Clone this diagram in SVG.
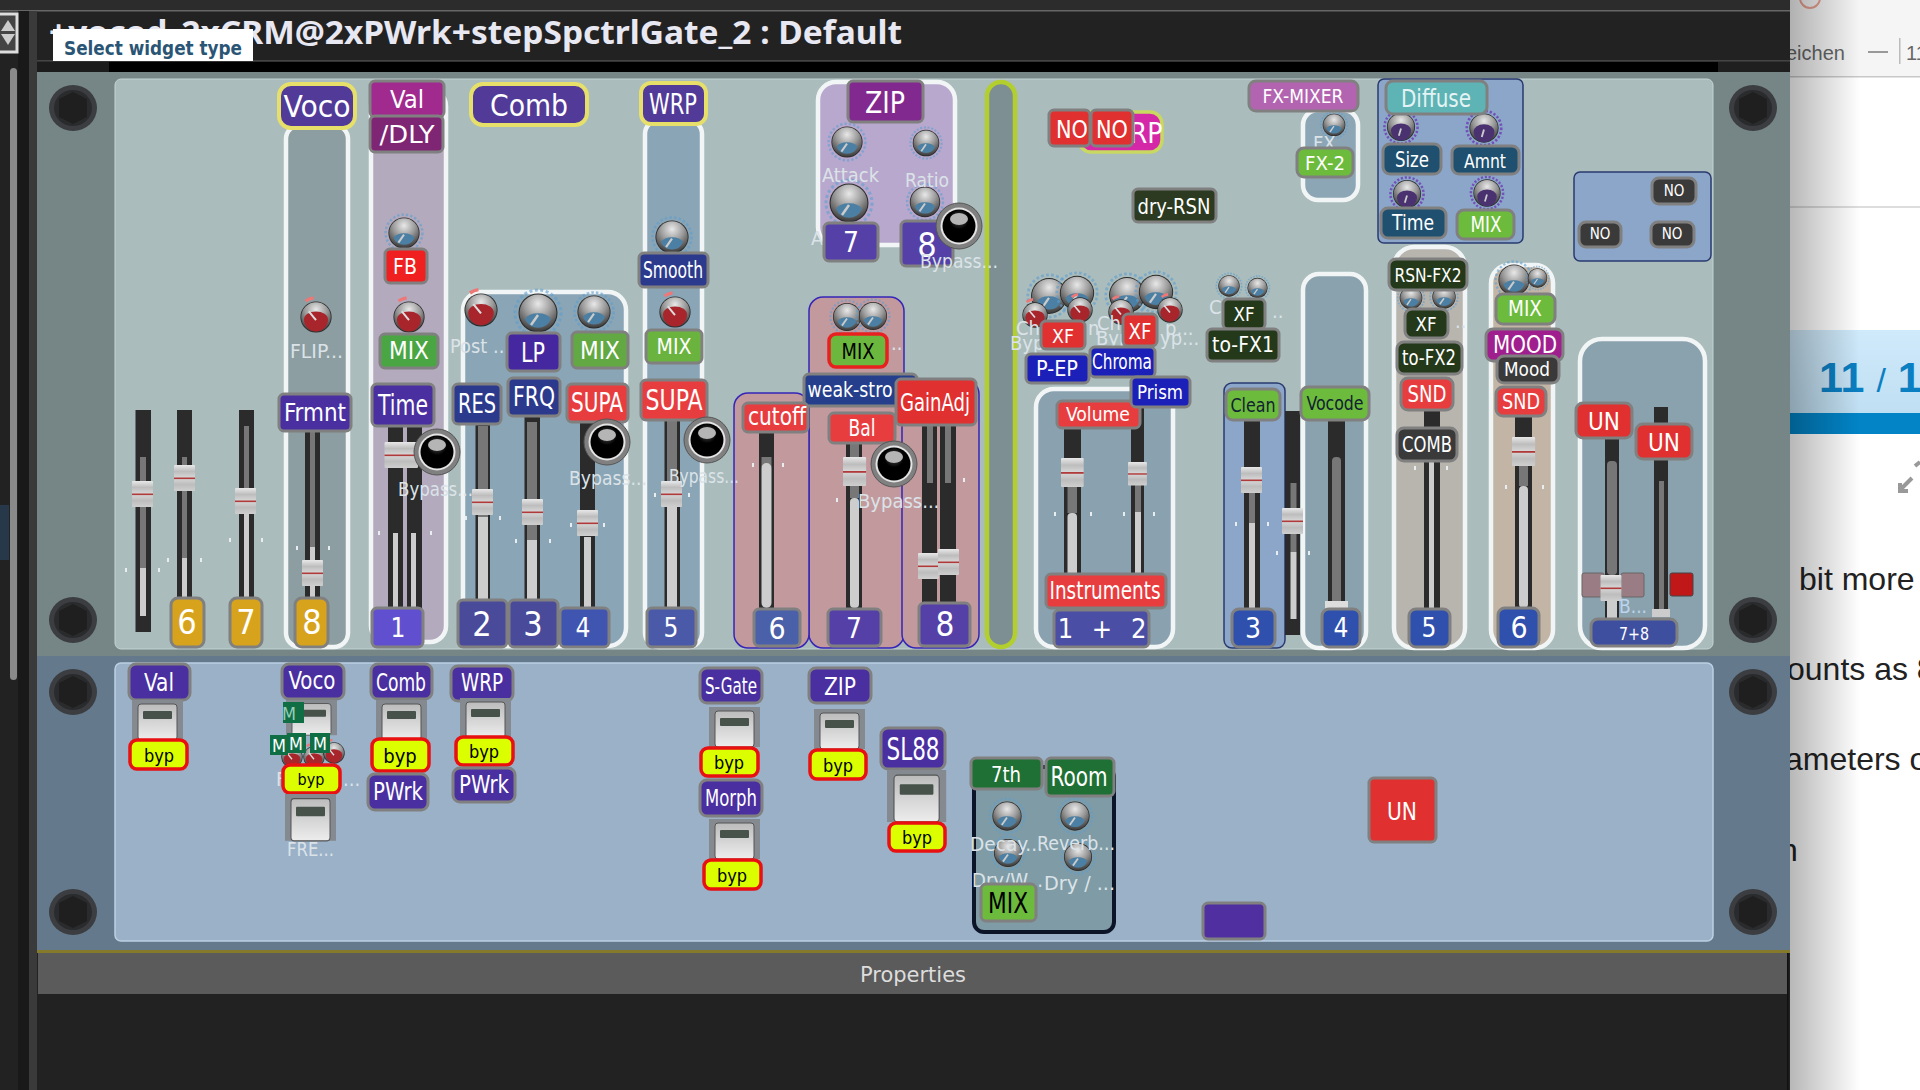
<svg xmlns="http://www.w3.org/2000/svg" width="1920" height="1090" viewBox="0 0 1920 1090">
<style>
.l{stroke:#808080;stroke-width:3}
.t{fill:#fff;font-family:"DejaVu Sans Condensed","DejaVu Sans",sans-serif;text-anchor:middle;dominant-baseline:central}
.d{fill:#dbe3e8;font-family:"DejaVu Sans Condensed","DejaVu Sans",sans-serif;font-size:20px}
.col{stroke:#f2f5f5;stroke-width:4.5}
.bx{stroke:#3525b8;stroke-width:1.5;fill:#c29a9e}
.nv{stroke:#2a3a70;stroke-width:1.5;fill:#8ba6c8}
.tr{fill:#2b2b2b}.g{fill:#777}.w{fill:#cdcdcd}
.by{fill:#dcff00;stroke:#e81010;stroke-width:3.5}
.pg{fill:#222;font-family:"Liberation Sans",Arial,sans-serif;font-size:32px}
.tk{fill:#e8eef0}
</style>
<defs>
<linearGradient id="capg" x1="0" y1="0" x2="0" y2="1"><stop offset="0" stop-color="#e8e8e8"/><stop offset=".25" stop-color="#bdbdbd"/><stop offset=".5" stop-color="#d8d8d8"/><stop offset=".75" stop-color="#bdbdbd"/><stop offset="1" stop-color="#cfcfcf"/></linearGradient>
<linearGradient id="swg" x1="0" y1="0" x2="0" y2="1"><stop offset="0" stop-color="#bcbcbc"/><stop offset="1" stop-color="#ededed"/></linearGradient>
<linearGradient id="shd" x1="0" y1="0" x2="1" y2="0"><stop offset="0" stop-color="#000" stop-opacity=".28"/><stop offset="1" stop-color="#000" stop-opacity="0"/></linearGradient>
<linearGradient id="ban" x1="0" y1="0" x2="0" y2="1"><stop offset="0" stop-color="#cfeafb"/><stop offset="1" stop-color="#c0dff2"/></linearGradient>
<radialGradient id="sil" cx=".5" cy=".25" r=".75"><stop offset="0" stop-color="#e8e8e8"/><stop offset=".5" stop-color="#9a9a9a"/><stop offset="1" stop-color="#3a3a3a"/></radialGradient>
<radialGradient id="blk" cx=".5" cy=".3" r=".6"><stop offset="0" stop-color="#555"/><stop offset=".5" stop-color="#000"/></radialGradient>
<g id="kb"><circle r="23" fill="none" stroke="#5d9fd0" stroke-width="3" stroke-dasharray="3 2.500" opacity=".6"/><circle r="19.5" fill="#2a2a2a"/><circle r="18.5" fill="url(#sil)"/><path d="M-13 6A14 14 0 0 0 13 6A14 9 0 0 0 -13 6Z" fill="#4b7fa3"/><line x1="0" y1="2" x2="-7" y2="12" stroke="#ccc" stroke-width="2.500"/></g>
<g id="kr"><circle r="19.500" fill="#2a2a2a"/><circle r="18.500" fill="url(#sil)"/><path d="M-15 3A15 15 0 0 0 15 3A15 10 0 0 0 -15 3Z" fill="#a8252c"/><line x1="0" y1="4" x2="-9" y2="-7" stroke="#ddd" stroke-width="2.500"/><path d="M-13 -20A24 24 0 0 1 -3 -24" fill="none" stroke="#e77" stroke-width="4"/></g>
<g id="kp"><circle r="23" fill="none" stroke="#6a35b5" stroke-width="3.500" stroke-dasharray="3 2.500" opacity=".75"/><circle r="19.500" fill="#2a2a2a"/><circle r="18.500" fill="url(#sil)"/><path d="M-14 5A14 14 0 0 0 14 5A14 10 0 0 0 -14 5Z" fill="#4a3270"/><line x1="0" y1="2" x2="-3" y2="12" stroke="#ccc" stroke-width="2.500"/></g>
<g id="bb"><circle r="23" fill="#808080" stroke="#555" stroke-width="1"/><circle r="18.500" fill="#e4e4e4"/><circle r="16.500" fill="url(#blk)"/><ellipse cy="-7" rx="9" ry="6" fill="#b5b5b5"/></g>
<g id="sc"><ellipse rx="24" ry="23" fill="#3b3d40"/><ellipse rx="19" ry="18" fill="#2a2b2d"/><polygon points="-14,-9 0,-16 14,-9 14,9 0,16 -14,9" fill="#1f1f20"/></g>
<g id="cap"><rect width="21" height="26" rx="1" fill="url(#capg)"/><rect y="12.500" width="21" height="1.600" fill="#b03a3a"/></g>
<g id="sw"><rect width="51" height="40" fill="#858a90"/><rect x="6" y="4" width="39" height="36" rx="3" fill="url(#swg)" stroke="#555" stroke-width="1"/><rect x="11" y="11" width="29" height="8" rx="1" fill="#46524a"/></g>
</defs>

<g id="page">
<rect x="1790" width="130" height="1090" fill="#fff"/>
<rect x="1790" width="130" height="77" fill="#f5f5f6"/>
<rect x="1790" y="76" width="130" height="1.500" fill="#c8c8c8"/>
<circle cx="1810" cy="-2" r="10" fill="none" stroke="#e8a090" stroke-width="2"/>
<text x="1786" y="60" fill="#666" font-family="Liberation Sans,sans-serif" font-size="20">eichen</text>
<rect x="1868" y="51" width="20" height="2" fill="#999"/>
<rect x="1899" y="38" width="1.500" height="26" fill="#bbb"/>
<text x="1906" y="60" fill="#666" font-family="Liberation Sans,sans-serif" font-size="20">11</text>
<rect x="1790" y="206" width="130" height="2" fill="#ddd"/>
<rect x="1790" y="330" width="130" height="83" fill="url(#ban)"/>
<rect x="1790" y="413" width="130" height="21" fill="#0284c7"/>
<text x="1819" y="392" fill="#0a7fc2" font-family="Liberation Sans,sans-serif" font-weight="700" font-size="43">11 <tspan font-weight="400" font-size="34">/</tspan> 12</text>
<path d="M1900 490L1912 478M1900 483V491H1908M1915 466L1920 462" stroke="#999" stroke-width="4" fill="none"/>
<text x="1799" y="590" class="pg">bit more</text>
<text x="1787" y="680" class="pg">ounts as 8</text>
<text x="1785" y="770" class="pg">ameters o</text>
<text x="1780" y="861" class="pg">n</text>
<rect x="1790" width="70" height="1090" fill="url(#shd)"/>
</g>

<g id="chrome">
<rect width="1790" height="1090" fill="#222"/>
<rect width="1790" height="10" fill="#2c2c2c"/>
<rect x="0" y="10" width="1790" height="1.500" fill="#666"/>
<rect x="37" y="60" width="1753" height="1.500" fill="#444"/>
<rect x="37" y="62" width="1753" height="10" fill="#000"/>
<rect x="37" y="62" width="72" height="10" fill="#1c1c1c"/>
<rect x="1718" y="62" width="72" height="10" fill="#1f1f1f"/>
<rect x="29" y="11" width="8" height="1079" fill="#3a3a3a"/>
<rect x="18" y="11" width="11" height="1079" fill="#191919"/>
<rect x="0" y="505" width="9" height="55" fill="#26384a"/>
<rect x="10" y="68" width="7" height="612" rx="3.500" fill="#8a8a8a"/>
<rect x="-2" y="14" width="19" height="38" fill="#444" stroke="#ddd" stroke-width="3"/>
<polygon points="8,20 15,31 1,31" fill="#ccc"/><polygon points="1,34 15,34 8,45" fill="#ccc"/>
<text x="49" y="44" fill="#e8e8f2" font-family="Noto Sans,sans-serif" font-weight="700" font-size="33" textLength="853" lengthAdjust="spacingAndGlyphs">+vocod_2xCRM@2xPWrk+stepSpctrlGate_2 : Default</text>
<rect x="53" y="29" width="200" height="32" fill="#fff"/>
<text x="64" y="55" fill="#2a5575" font-family="DejaVu Sans,sans-serif" font-weight="700" font-size="19" textLength="178" lengthAdjust="spacingAndGlyphs">Select widget type</text>
</g>

<g id="panels">
<rect x="37" y="72" width="1753" height="584" fill="#768687"/>
<rect x="37" y="656" width="1753" height="294" fill="#64798c"/>
<rect x="37" y="950" width="1753" height="3" fill="#857a2c"/>
<rect x="38" y="953" width="1749" height="41" fill="#5b5b5b"/>
<rect x="1787" y="953" width="1.500" height="137" fill="#111"/>
<rect x="115" y="79" width="1598" height="570" rx="6" fill="#aabcbc" stroke="#c4d4d4" stroke-width="1"/>
<rect x="115" y="663" width="1598" height="278" rx="6" fill="#9ab1c8" stroke="#bcd0e2" stroke-width="1.500"/>
<text x="913" y="982" text-anchor="middle" fill="#ddd" font-family="DejaVu Sans,sans-serif" font-size="21" textLength="106" lengthAdjust="spacingAndGlyphs">Properties</text>
</g>

<g id="screws">
<use href="#sc" transform="translate(73 108)"/><use href="#sc" transform="translate(73 620)"/><use href="#sc" transform="translate(73 692)"/><use href="#sc" transform="translate(73 912)"/>
<use href="#sc" transform="translate(1753 108)"/><use href="#sc" transform="translate(1753 620)"/><use href="#sc" transform="translate(1753 692)"/><use href="#sc" transform="translate(1753 912)"/>
</g>

<g id="columns">
<rect class="col" x="286" y="125" width="62" height="522" rx="14" fill="#8c9ea1"/>
<rect class="col" x="371" y="90" width="75" height="552" rx="16" fill="#b3aabd"/>
<rect class="col" x="463" y="292" width="163" height="354" rx="18" fill="#8aa5b5"/>
<rect class="col" x="645" y="120" width="57" height="527" rx="14" fill="#8aa5b5"/>
<rect class="col" x="818" y="82" width="137" height="163" rx="18" fill="#b9a8cd"/>
<rect x="987" y="82" width="28" height="565" rx="14" fill="#7d8f92" stroke="#b2cf2e" stroke-width="4.500"/>
<rect class="bx" x="809" y="297" width="95" height="351" rx="14"/>
<rect class="bx" x="734" y="393" width="75" height="255" rx="14"/>
<rect class="bx" x="902" y="380" width="77" height="268" rx="14"/>
<rect class="col" x="1036" y="389" width="137" height="258" rx="18" fill="#8aa2b0"/>
<rect class="col" x="1303" y="110" width="55" height="90" rx="15" fill="#8da6b5"/>
<rect class="nv" x="1378" y="79" width="145" height="164" rx="6"/>
<rect class="nv" x="1574" y="172" width="137" height="89" rx="6"/>
<rect class="col" x="1394" y="247" width="71" height="401" rx="20" fill="#b8b5af"/>
<rect class="col" x="1491" y="265" width="62" height="383" rx="18" fill="#c2b5a5"/>
<rect class="nv" x="1224" y="383" width="61" height="265" rx="8"/>
<rect class="col" x="1303" y="274" width="63" height="374" rx="16" fill="#8aa2ae"/>
<rect class="col" x="1580" y="339" width="125" height="309" rx="22" fill="#8aa2ae"/>
<rect x="974" y="767" width="140" height="165" rx="10" fill="#7f9ba6" stroke="#0c1428" stroke-width="4"/>
</g>

<g id="ticks">
<rect class="tk" x="125" y="568" width="2" height="4"/><rect class="tk" x="158" y="568" width="2" height="4"/>
<rect class="tk" x="167" y="558" width="2" height="4"/><rect class="tk" x="200" y="558" width="2" height="4"/>
<rect class="tk" x="229" y="538" width="2" height="4"/><rect class="tk" x="261" y="538" width="2" height="4"/>
<rect class="tk" x="296" y="546" width="2" height="4"/><rect class="tk" x="328" y="546" width="2" height="4"/>
<rect class="tk" x="378" y="531" width="2" height="4"/><rect class="tk" x="430" y="531" width="2" height="4"/>
<rect class="tk" x="465" y="516" width="2" height="4"/><rect class="tk" x="499" y="516" width="2" height="4"/>
<rect class="tk" x="515" y="539" width="2" height="4"/><rect class="tk" x="549" y="539" width="2" height="4"/>
<rect class="tk" x="570" y="523" width="2" height="4"/><rect class="tk" x="603" y="523" width="2" height="4"/>
<rect class="tk" x="654" y="493" width="2" height="4"/><rect class="tk" x="688" y="493" width="2" height="4"/>
<rect class="tk" x="752" y="463" width="2" height="4"/><rect class="tk" x="782" y="463" width="2" height="4"/>
<rect class="tk" x="836" y="498" width="2" height="4"/><rect class="tk" x="963" y="478" width="2" height="4"/>
<rect class="tk" x="1054" y="512" width="2" height="4"/><rect class="tk" x="1090" y="512" width="2" height="4"/><rect class="tk" x="1123" y="512" width="2" height="4"/><rect class="tk" x="1153" y="512" width="2" height="4"/>
<rect class="tk" x="1235" y="522" width="2" height="4"/><rect class="tk" x="1267" y="522" width="2" height="4"/>
<rect class="tk" x="1276" y="551" width="2" height="4"/><rect class="tk" x="1308" y="551" width="2" height="4"/>
<rect class="tk" x="1414" y="466" width="2" height="4"/><rect class="tk" x="1446" y="466" width="2" height="4"/>
<rect class="tk" x="1505" y="485" width="2" height="4"/><rect class="tk" x="1542" y="485" width="2" height="4"/>
</g>

<g id="faders">
<rect class="tr" x="135.500" y="410" width="15.500" height="222"/><rect class="g" x="140" y="457" width="6" height="111"/><rect class="w" x="140" y="568" width="6" height="48"/><use href="#cap" transform="translate(132 481)"/>
<rect class="tr" x="177" y="410" width="15" height="190"/><rect class="g" x="182" y="457" width="5" height="101"/><rect class="w" x="182" y="558" width="5" height="42"/><use href="#cap" transform="translate(174 465)"/>
<rect class="tr" x="239" y="410" width="15" height="190"/><rect class="g" x="244" y="426" width="5" height="88"/><rect class="w" x="244" y="514" width="5" height="86"/><use href="#cap" transform="translate(235 488)"/>
<rect class="tr" x="305" y="432" width="15" height="168"/><rect class="g" x="310" y="432" width="5" height="115"/><rect class="w" x="310" y="547" width="5" height="50"/><use href="#cap" transform="translate(302 560)"/>
<rect class="tr" x="388" y="427" width="15" height="183"/><rect class="tr" x="407" y="427" width="15" height="183"/><rect class="w" x="393" y="533" width="5" height="77"/><rect class="w" x="411" y="533" width="5" height="77"/><use href="#cap" transform="translate(384.500 442) scale(1.600 1)"/>
<rect class="tr" x="475.500" y="425" width="14.500" height="176"/><rect class="g" x="478" y="426" width="10" height="91"/><rect class="w" x="478" y="517" width="10" height="84"/><use href="#cap" transform="translate(472 489)"/>
<rect class="tr" x="524.500" y="417" width="15.500" height="184"/><rect class="g" x="527" y="422" width="10" height="118"/><rect class="w" x="527" y="540" width="10" height="61"/><use href="#cap" transform="translate(522 499)"/>
<rect class="tr" x="580" y="423" width="15" height="187"/><rect class="w" x="584" y="537" width="7" height="73"/><use href="#cap" transform="translate(577 510)"/>
<rect class="tr" x="664.500" y="421" width="15.500" height="187"/><rect class="g" x="667" y="421" width="10" height="86"/><rect class="w" x="667" y="507" width="10" height="101"/><use href="#cap" transform="translate(661 481)"/>
<rect class="tr" x="759" y="433" width="15" height="175"/><rect class="g" x="761.500" y="457" width="10" height="10"/><rect class="w" x="761.500" y="463" width="10" height="145" rx="5"/>
<rect class="tr" x="846" y="444" width="16" height="164"/><rect class="g" x="850" y="444" width="9" height="54"/><rect class="w" x="850" y="498" width="9" height="110" rx="4"/><use href="#cap" transform="translate(843 457) scale(1.100 1.120)"/>
<rect class="tr" x="922" y="426" width="15" height="177"/><rect class="tr" x="940" y="426" width="16" height="177"/><rect class="g" x="927" y="426" width="6" height="57"/><rect class="g" x="945" y="426" width="6" height="57"/><use href="#cap" transform="translate(918 553)"/><use href="#cap" transform="translate(938 549)"/>
<rect class="tr" x="1064" y="429" width="17" height="161"/><rect class="g" x="1067.500" y="487" width="9.500" height="26"/><rect class="w" x="1067.500" y="513" width="9.500" height="77" rx="4"/><use href="#cap" transform="translate(1061 458) scale(1.080 1.120)"/>
<rect class="tr" x="1131" y="408" width="13" height="182"/><rect class="g" x="1135" y="485" width="6" height="27"/><rect class="w" x="1135" y="512" width="6" height="78"/><use href="#cap" transform="translate(1128 462) scale(.9 .9)"/>
<rect class="tr" x="1244" y="421" width="16" height="187"/><rect class="g" x="1249" y="493" width="6" height="30"/><rect class="w" x="1249" y="523" width="6" height="85"/><use href="#cap" transform="translate(1241 467)"/>
<rect class="tr" x="1285" y="411" width="15" height="224"/><rect class="g" x="1290.500" y="483" width="6" height="69"/><rect class="w" x="1290.500" y="552" width="6" height="67"/><use href="#cap" transform="translate(1282 508)"/>
<rect class="tr" x="1328" y="421" width="17" height="187"/><rect class="g" x="1332" y="457" width="9" height="150" rx="4"/><rect x="1325" y="601" width="23" height="8" fill="#ddd"/>
<rect class="tr" x="1424" y="411" width="16" height="198"/><rect class="w" x="1429" y="462" width="5" height="147"/>
<rect class="tr" x="1515" y="417" width="17" height="192"/><rect class="g" x="1519" y="466" width="9" height="20"/><rect class="w" x="1519" y="486" width="9" height="122" rx="4"/><use href="#cap" transform="translate(1512 437) scale(1.100 1.120)"/>
<rect class="tr" x="1605" y="439" width="14" height="180"/><rect class="g" x="1607" y="461" width="10" height="114" rx="4"/><rect class="w" x="1607" y="601" width="10" height="18"/><rect x="1582" y="573" width="22" height="24" rx="2" fill="#9a7d84" stroke="#666"/><rect x="1621" y="573" width="23" height="24" rx="2" fill="#9a7d84" stroke="#666"/><use href="#cap" transform="translate(1600.500 575)"/>
<rect class="tr" x="1654" y="407" width="14" height="210"/><rect class="g" x="1659" y="481" width="5" height="129"/><rect x="1652" y="609" width="18" height="8" fill="#ccc"/>
<rect x="1670" y="573" width="23" height="23" rx="2" fill="#c01818" stroke="#444"/>
</g>

<g id="knobs">
<use href="#kr" transform="translate(316 317) scale(.8)"/>
<use href="#kb" transform="translate(404 233) scale(.8)"/>
<use href="#kr" transform="translate(409 317) scale(.8)"/>
<use href="#kr" transform="translate(481 310) scale(.85)"/>
<use href="#kb" transform="translate(538 313) scale(1)"/>
<use href="#kb" transform="translate(594 312) scale(.85)"/>
<use href="#kb" transform="translate(672 237) scale(.85)"/>
<use href="#kr" transform="translate(675 312) scale(.8)"/>
<use href="#kb" transform="translate(847 142) scale(.8)"/>
<use href="#kb" transform="translate(926 143) scale(.68)"/>
<use href="#kb" transform="translate(849 203) scale(1)"/>
<use href="#kb" transform="translate(925 202) scale(.78)"/>
<use href="#kb" transform="translate(847 317) scale(.72)"/>
<use href="#kb" transform="translate(873 316) scale(.72)"/>
<use href="#kb" transform="translate(1049 296) scale(.92)"/>
<use href="#kb" transform="translate(1077 293) scale(.88)"/>
<use href="#kb" transform="translate(1127 295) scale(.92)"/>
<use href="#kb" transform="translate(1156 292) scale(.88)"/>
<use href="#kr" transform="translate(1035 315) scale(.65)"/>
<use href="#kr" transform="translate(1080 310) scale(.65)"/>
<use href="#kr" transform="translate(1121 312) scale(.65)"/>
<use href="#kr" transform="translate(1170 310) scale(.65)"/>
<use href="#kb" transform="translate(1229 286) scale(.55)"/>
<use href="#kb" transform="translate(1257.500 288) scale(.52)"/>
<use href="#kb" transform="translate(1334 125) scale(.58)"/>
<use href="#kp" transform="translate(1401 127) scale(.72)"/>
<use href="#kp" transform="translate(1484 128) scale(.75)"/>
<use href="#kp" transform="translate(1407 194) scale(.72)"/>
<use href="#kp" transform="translate(1487 193) scale(.7)"/>
<use href="#kb" transform="translate(1411 298) scale(.58)"/>
<use href="#kb" transform="translate(1444 297) scale(.6)"/>
<use href="#kb" transform="translate(1514 280) scale(.8)"/>
<use href="#kb" transform="translate(1537.500 278) scale(.5)"/>
<use href="#kb" transform="translate(1007 816) scale(.75)"/>
<use href="#kb" transform="translate(1075 816) scale(.75)"/>
<use href="#kb" transform="translate(1008 853) scale(.72)"/>
<use href="#kb" transform="translate(1078 857) scale(.72)"/>
</g>

<g id="captions">
<text class="d" x="290" y="358" textLength="53" lengthAdjust="spacingAndGlyphs">FLIP...</text>
<text class="d" x="450" y="353" textLength="60" lengthAdjust="spacingAndGlyphs">Post ...</text>
<text class="d" x="822" y="182" textLength="57" lengthAdjust="spacingAndGlyphs">Attack</text>
<text class="d" x="905" y="187" textLength="44" lengthAdjust="spacingAndGlyphs">Ratio</text>
<text class="d" x="811" y="245">A</text>
<text class="d" x="1016" y="335">Ch</text><text class="d" x="1010" y="350">Byp</text>
<text class="d" x="1088" y="335">n</text><text class="d" x="1097" y="330">Ch</text><text class="d" x="1096" y="345">Byp</text>
<text class="d" x="1165" y="335">p...</text><text class="d" x="1160" y="345">yp...</text>
<text class="d" x="1209" y="314">C</text><text class="d" x="1272" y="318">..</text>
<text class="d" x="1455" y="328">..</text>
<text class="d" x="1313" y="150">FX</text>
<text class="d" x="891" y="350">..</text>
<text class="d" x="858" y="508">Bypass...</text>
<text class="d" x="276" y="786">F</text><text class="d" x="343" y="786">...</text>
<text class="d" x="287" y="856" textLength="47" lengthAdjust="spacingAndGlyphs">FRE...</text>
<text class="d" x="970" y="851" textLength="73" lengthAdjust="spacingAndGlyphs">Decay...</text>
<text class="d" x="1037" y="850" textLength="78" lengthAdjust="spacingAndGlyphs">Reverb...</text>
<text class="d" x="972" y="887" textLength="71" lengthAdjust="spacingAndGlyphs">Dry/W...</text>
<text class="d" x="1044" y="890" textLength="71" lengthAdjust="spacingAndGlyphs">Dry / ...</text>
<text class="d" x="1619" y="613" style="fill:#bcd4ec" textLength="28" lengthAdjust="spacingAndGlyphs">B...</text>
</g>

<g id="n-voco"><rect x="279" y="84" width="76" height="44" rx="12" fill="#523a98" stroke="#e6e06a" stroke-width="4"/><text class="t" x="317" y="106" font-size="31" textLength="67" lengthAdjust="spacingAndGlyphs">Voco</text></g>
<g id="n-comb"><rect x="471" y="84" width="116" height="41" rx="12" fill="#523a98" stroke="#e6e06a" stroke-width="4"/><text class="t" x="529" y="105" font-size="30" textLength="78" lengthAdjust="spacingAndGlyphs">Comb</text></g>
<g id="n-wrp"><rect x="641" y="83" width="65" height="41" rx="10" fill="#523a98" stroke="#e6e06a" stroke-width="4"/><text class="t" x="673" y="104" font-size="28" textLength="48" lengthAdjust="spacingAndGlyphs">WRP</text></g>
<g id="n-val"><rect class="l" x="370" y="81" width="74" height="36" rx="5" fill="#a02a8e"/><text class="t" x="407" y="99" font-size="25" textLength="34" lengthAdjust="spacingAndGlyphs">Val</text></g>
<g id="n-dly"><rect class="l" x="370" y="116" width="73" height="36" rx="5" fill="#7e2573"/><text class="t" x="407" y="134" font-size="25" textLength="55" lengthAdjust="spacingAndGlyphs">/DLY</text></g>
<g id="n-fb"><rect class="l" x="385" y="249" width="42" height="34" rx="5" fill="#f02020"/><text class="t" x="405" y="266" font-size="22" textLength="24" lengthAdjust="spacingAndGlyphs">FB</text></g>
<g id="n-mix1"><rect class="l" x="380" y="334" width="58" height="34" rx="5" fill="#4aa642"/><text class="t" x="409" y="351" font-size="24" textLength="40" lengthAdjust="spacingAndGlyphs">MIX</text></g>
<g id="n-lp"><rect class="l" x="507" y="333" width="53" height="38" rx="5" fill="#4528a0"/><text class="t" x="533" y="353" font-size="26" textLength="24" lengthAdjust="spacingAndGlyphs">LP</text></g>
<g id="n-mix2"><rect class="l" x="572" y="332" width="56" height="36" rx="5" fill="#62a843"/><text class="t" x="600" y="350" font-size="25" textLength="40" lengthAdjust="spacingAndGlyphs">MIX</text></g>
<g id="n-frq"><rect class="l" x="508" y="378" width="52" height="38" rx="5" fill="#2b3a8c"/><text class="t" x="534" y="397" font-size="26" textLength="42" lengthAdjust="spacingAndGlyphs">FRQ</text></g>
<g id="n-res"><rect class="l" x="453" y="384" width="48" height="40" rx="5" fill="#2b3a8c"/><text class="t" x="477" y="404" font-size="26" textLength="38" lengthAdjust="spacingAndGlyphs">RES</text></g>
<g id="n-supa1"><rect class="l" x="567" y="384" width="61" height="38" rx="5" fill="#e83d3f"/><text class="t" x="597" y="403" font-size="26" textLength="52" lengthAdjust="spacingAndGlyphs">SUPA</text></g>
<g id="n-time"><rect class="l" x="372" y="384" width="62" height="42" rx="5" fill="#4a2fa0"/><text class="t" x="403" y="405" font-size="28" textLength="50" lengthAdjust="spacingAndGlyphs">Time</text></g>
<g id="n-frmnt"><rect class="l" x="279" y="394" width="72" height="37" rx="5" fill="#4a2fa0"/><text class="t" x="315" y="412" font-size="25" textLength="62" lengthAdjust="spacingAndGlyphs">Frmnt</text></g>
<g id="n-smooth"><rect class="l" x="639" y="253" width="69" height="34" rx="5" fill="#2b3a8c"/><text class="t" x="673" y="270" font-size="23" textLength="60" lengthAdjust="spacingAndGlyphs">Smooth</text></g>
<g id="n-mix3"><rect class="l" x="646" y="330" width="56" height="33" rx="5" fill="#6ab33e"/><text class="t" x="674" y="346" font-size="22" textLength="35" lengthAdjust="spacingAndGlyphs">MIX</text></g>
<g id="n-supa2"><rect class="l" x="641" y="380" width="66" height="40" rx="5" fill="#e83d3f"/><text class="t" x="674" y="400" font-size="28" textLength="57" lengthAdjust="spacingAndGlyphs">SUPA</text></g>

<g id="n-g6"><rect class="l" x="171" y="598" width="33" height="49" rx="7" fill="#d8a31c"/><text class="t" x="187" y="622" font-size="34">6</text></g>
<g id="n-g7"><rect class="l" x="230" y="598" width="32" height="49" rx="7" fill="#d8a31c"/><text class="t" x="246" y="622" font-size="34">7</text></g>
<g id="n-g8"><rect class="l" x="295" y="598" width="33" height="49" rx="7" fill="#d8a31c"/><text class="t" x="312" y="622" font-size="34">8</text></g>
<g id="n-1"><rect class="l" x="372" y="608" width="51" height="39" rx="5" fill="#6050d0"/><text class="t" x="398" y="628" font-size="26">1</text></g>
<g id="n-2"><rect class="l" x="458" y="600" width="49" height="47" rx="5" fill="#4a4a9a"/><text class="t" x="482" y="624" font-size="34">2</text></g>
<g id="n-3"><rect class="l" x="509" y="600" width="49" height="47" rx="5" fill="#4a4a9a"/><text class="t" x="533" y="624" font-size="34">3</text></g>
<g id="n-4"><rect class="l" x="560" y="608" width="49" height="39" rx="5" fill="#3f55b0"/><text class="t" x="583" y="628" font-size="26">4</text></g>
<g id="n-5"><rect class="l" x="647" y="608" width="49" height="39" rx="5" fill="#4a5aa8"/><text class="t" x="671" y="628" font-size="26">5</text></g>

<g id="n-zip"><rect class="l" x="848" y="81" width="75" height="41" rx="5" fill="#82298f"/><text class="t" x="885" y="102" font-size="30" textLength="40" lengthAdjust="spacingAndGlyphs">ZIP</text></g>
<g id="n-z7"><rect class="l" x="824" y="223" width="54" height="38" rx="5" fill="#5540a8"/><text class="t" x="851" y="242" font-size="28">7</text></g>
<g id="n-z8"><rect class="l" x="901" y="221" width="52" height="45" rx="5" fill="#5540a8"/><text class="t" x="927" y="245" font-size="34">8</text></g>
<g id="n-mix4"><rect x="829" y="334" width="58" height="33" rx="7" fill="#6cb83e" stroke="#e82020" stroke-width="3.500"/><text class="t" x="858" y="351" font-size="22" style="fill:#000" textLength="33" lengthAdjust="spacingAndGlyphs">MIX</text></g>
<g id="n-weak"><rect class="l" x="804" y="374" width="113" height="32" rx="5" fill="#253f8c"/><text class="t" x="850" y="390" font-size="21" textLength="85" lengthAdjust="spacingAndGlyphs">weak-stro</text></g>
<g id="n-gain"><rect class="l" x="896" y="379" width="80" height="46" rx="5" fill="#e03030"/><text class="t" x="935" y="402" font-size="25" textLength="70" lengthAdjust="spacingAndGlyphs">GainAdj</text></g>
<g id="n-cutoff"><rect class="l" x="743" y="403" width="65" height="29" rx="5" fill="#e83d3f"/><text class="t" x="777" y="417" font-size="24" textLength="58" lengthAdjust="spacingAndGlyphs">cutoff</text></g>
<g id="n-bal"><rect class="l" x="829" y="413" width="66" height="30" rx="5" fill="#e83d3f"/><text class="t" x="862" y="428" font-size="23" textLength="27" lengthAdjust="spacingAndGlyphs">Bal</text></g>
<g id="n-c6"><rect class="l" x="754" y="609" width="46" height="37" rx="5" fill="#4a60a8"/><text class="t" x="777" y="628" font-size="30">6</text></g>
<g id="n-c7"><rect class="l" x="828" y="609" width="53" height="37" rx="5" fill="#5540a8"/><text class="t" x="854" y="628" font-size="28">7</text></g>
<g id="n-c8"><rect class="l" x="919" y="603" width="51" height="43" rx="5" fill="#5540a8"/><text class="t" x="945" y="624" font-size="33">8</text></g>

<g id="n-rp"><rect x="1079" y="112" width="83" height="40" rx="12" fill="#d428a8" stroke="#c8d860" stroke-width="3.500"/><text class="t" x="1146" y="133" font-size="28">RP</text></g>
<g id="n-no1"><rect class="l" x="1049" y="110" width="41" height="36" rx="5" fill="#e03030"/><text class="t" x="1072" y="129" font-size="25" textLength="32" lengthAdjust="spacingAndGlyphs">NO</text></g>
<g id="n-no2"><rect class="l" x="1091" y="110" width="42" height="36" rx="5" fill="#e03030"/><text class="t" x="1112" y="129" font-size="25" textLength="32" lengthAdjust="spacingAndGlyphs">NO</text></g>
<g id="n-dry"><rect class="l" x="1133" y="189" width="83" height="33" rx="5" fill="#2b3a20"/><text class="t" x="1174" y="206" font-size="22" textLength="73" lengthAdjust="spacingAndGlyphs">dry-RSN</text></g>
<g id="n-xfr1"><rect class="l" x="1041" y="321" width="44" height="28" rx="5" fill="#e03030"/><text class="t" x="1063" y="336" font-size="20" textLength="22" lengthAdjust="spacingAndGlyphs">XF</text></g>
<g id="n-xfr2"><rect class="l" x="1123" y="314" width="34" height="32" rx="5" fill="#e03030"/><text class="t" x="1140" y="331" font-size="22" textLength="23" lengthAdjust="spacingAndGlyphs">XF</text></g>
<g id="n-pep"><rect class="l" x="1026" y="354" width="63" height="29" rx="5" fill="#1a20b8"/><text class="t" x="1057" y="369" font-size="21" textLength="42" lengthAdjust="spacingAndGlyphs">P-EP</text></g>
<g id="n-chroma"><rect class="l" x="1090" y="347" width="65" height="30" rx="5" fill="#1a20b8"/><text class="t" x="1122" y="362" font-size="21" textLength="60" lengthAdjust="spacingAndGlyphs">Chroma</text></g>
<g id="n-volume"><rect class="l" x="1057" y="401" width="83" height="27" rx="5" fill="#e83d3f"/><text class="t" x="1098" y="414" font-size="20" textLength="64" lengthAdjust="spacingAndGlyphs">Volume</text></g>
<g id="n-prism"><rect class="l" x="1131" y="377" width="59" height="30" rx="5" fill="#1a20b8"/><text class="t" x="1160" y="392" font-size="20" textLength="46" lengthAdjust="spacingAndGlyphs">Prism</text></g>
<g id="n-instr"><rect class="l" x="1046" y="574" width="120" height="34" rx="5" fill="#e83d3f"/><text class="t" x="1105" y="591" font-size="24" textLength="111" lengthAdjust="spacingAndGlyphs">Instruments</text></g>
<g id="n-12"><rect class="l" x="1054" y="610" width="95" height="37" rx="5" fill="#4a4fa5"/><text class="t" x="1102" y="628" font-size="27" word-spacing="11">1 + 2</text></g>
<g id="n-xfd"><rect class="l" x="1223" y="299" width="42" height="30" rx="5" fill="#24391a"/><text class="t" x="1244" y="314" font-size="20" textLength="21" lengthAdjust="spacingAndGlyphs">XF</text></g>
<g id="n-tofx1"><rect class="l" x="1207" y="329" width="72" height="32" rx="5" fill="#24391a"/><text class="t" x="1243" y="345" font-size="21" textLength="62" lengthAdjust="spacingAndGlyphs">to-FX1</text></g>
<g id="n-fxmixer"><rect class="l" x="1249" y="81" width="109" height="30" rx="7" fill="#b264b0"/><text class="t" x="1303" y="96" font-size="20" textLength="81" lengthAdjust="spacingAndGlyphs">FX-MIXER</text></g>
<g id="n-fx2"><rect class="l" x="1297" y="148" width="56" height="29" rx="7" fill="#6cbb3c"/><text class="t" x="1325" y="163" font-size="20" textLength="40" lengthAdjust="spacingAndGlyphs">FX-2</text></g>
<g id="n-diffuse"><rect class="l" x="1386" y="81" width="101" height="33" rx="7" fill="#5eb3b5"/><text class="t" x="1436" y="98" font-size="25" style="fill:#e4f4f4" textLength="70" lengthAdjust="spacingAndGlyphs">Diffuse</text></g>
<g id="n-size"><rect class="l" x="1383" y="144" width="58" height="30" rx="7" fill="#1f5070"/><text class="t" x="1412" y="160" font-size="21" textLength="34" lengthAdjust="spacingAndGlyphs">Size</text></g>
<g id="n-amnt"><rect class="l" x="1452" y="146" width="67" height="28" rx="7" fill="#1f5070"/><text class="t" x="1485" y="161" font-size="19" textLength="42" lengthAdjust="spacingAndGlyphs">Amnt</text></g>
<g id="n-time2"><rect class="l" x="1381" y="208" width="65" height="30" rx="7" fill="#1f5070"/><text class="t" x="1413" y="223" font-size="21" textLength="42" lengthAdjust="spacingAndGlyphs">Time</text></g>
<g id="n-mix5"><rect class="l" x="1457" y="210" width="57" height="29" rx="7" fill="#6cbb3c"/><text class="t" x="1486" y="225" font-size="21" textLength="31" lengthAdjust="spacingAndGlyphs">MIX</text></g>
<g id="n-noa"><rect class="l" x="1652" y="178" width="44" height="26" rx="7" fill="#3a3a3a"/><text class="t" x="1674" y="191" font-size="15">NO</text></g>
<g id="n-nob"><rect class="l" x="1579" y="222" width="42" height="25" rx="7" fill="#3a3a3a"/><text class="t" x="1600" y="234" font-size="15">NO</text></g>
<g id="n-noc"><rect class="l" x="1651" y="222" width="43" height="25" rx="7" fill="#3a3a3a"/><text class="t" x="1672" y="234" font-size="15">NO</text></g>
<g id="n-rsn"><rect class="l" x="1389" y="259" width="78" height="31" rx="7" fill="#24391a"/><text class="t" x="1428" y="275" font-size="20" textLength="67" lengthAdjust="spacingAndGlyphs">RSN-FX2</text></g>
<g id="n-xf3"><rect class="l" x="1405" y="309" width="43" height="29" rx="7" fill="#24391a"/><text class="t" x="1426" y="324" font-size="20" textLength="21" lengthAdjust="spacingAndGlyphs">XF</text></g>
<g id="n-tofx2"><rect class="l" x="1397" y="342" width="65" height="32" rx="7" fill="#24391a"/><text class="t" x="1429" y="358" font-size="21" textLength="54" lengthAdjust="spacingAndGlyphs">to-FX2</text></g>
<g id="n-snd1"><rect class="l" x="1401" y="378" width="52" height="32" rx="7" fill="#e83d3f"/><text class="t" x="1427" y="394" font-size="23" textLength="39" lengthAdjust="spacingAndGlyphs">SND</text></g>
<g id="n-combd"><rect class="l" x="1397" y="428" width="60" height="33" rx="7" fill="#3a3a3a"/><text class="t" x="1427" y="444" font-size="22" textLength="50" lengthAdjust="spacingAndGlyphs">COMB</text></g>
<g id="n-mix6"><rect class="l" x="1496" y="294" width="59" height="30" rx="7" fill="#6cbb3c"/><text class="t" x="1525" y="309" font-size="21" textLength="34" lengthAdjust="spacingAndGlyphs">MIX</text></g>
<g id="n-mood"><rect class="l" x="1486" y="329" width="77" height="32" rx="7" fill="#a01f8e"/><text class="t" x="1525" y="345" font-size="24" textLength="64" lengthAdjust="spacingAndGlyphs">MOOD</text></g>
<g id="n-moodd"><rect class="l" x="1497" y="356" width="62" height="27" rx="7" fill="#3a3a3a"/><text class="t" x="1527" y="369" font-size="19" textLength="46" lengthAdjust="spacingAndGlyphs">Mood</text></g>
<g id="n-snd2"><rect class="l" x="1496" y="387" width="50" height="29" rx="7" fill="#e83d3f"/><text class="t" x="1521" y="402" font-size="21" textLength="38" lengthAdjust="spacingAndGlyphs">SND</text></g>
<g id="n-clean"><rect class="l" x="1226" y="389" width="54" height="31" rx="7" fill="#6cbb3c"/><text class="t" x="1253" y="405" font-size="20" style="fill:#123" textLength="45" lengthAdjust="spacingAndGlyphs">Clean</text></g>
<g id="n-vocode"><rect class="l" x="1301" y="387" width="68" height="33" rx="7" fill="#6cbb3c"/><text class="t" x="1335" y="403" font-size="20" style="fill:#123" textLength="57" lengthAdjust="spacingAndGlyphs">Vocode</text></g>
<g id="n-b3"><rect class="l" x="1232" y="609" width="43" height="38" rx="7" fill="#2f50ac"/><text class="t" x="1253" y="628" font-size="28">3</text></g>
<g id="n-b4"><rect class="l" x="1322" y="609" width="38" height="38" rx="7" fill="#2f50ac"/><text class="t" x="1341" y="628" font-size="26">4</text></g>
<g id="n-b5"><rect class="l" x="1409" y="609" width="41" height="38" rx="7" fill="#2f50ac"/><text class="t" x="1429" y="628" font-size="26">5</text></g>
<g id="n-b6"><rect class="l" x="1498" y="608" width="41" height="39" rx="7" fill="#2f50ac"/><text class="t" x="1519" y="627" font-size="30">6</text></g>
<g id="n-un1"><rect class="l" x="1576" y="403" width="56" height="35" rx="7" fill="#e03030"/><text class="t" x="1604" y="421" font-size="25" textLength="32" lengthAdjust="spacingAndGlyphs">UN</text></g>
<g id="n-un2"><rect class="l" x="1636" y="424" width="56" height="35" rx="7" fill="#e03030"/><text class="t" x="1664" y="442" font-size="25" textLength="32" lengthAdjust="spacingAndGlyphs">UN</text></g>
<g id="n-78"><rect class="l" x="1591" y="619" width="86" height="27" rx="7" fill="#3f4fa0"/><text class="t" x="1634" y="633" font-size="18" textLength="30" lengthAdjust="spacingAndGlyphs">7+8</text></g>

<g id="n-bval"><rect class="l" x="129" y="664" width="61" height="36" rx="7" fill="#4a2fa0"/><text class="t" x="159" y="682" font-size="25" textLength="30" lengthAdjust="spacingAndGlyphs">Val</text></g>
<use href="#sw" transform="translate(132 700)"/>
<g id="n-byp1"><rect class="by" x="130" y="740" width="57" height="29" rx="7"/><text class="t" x="159" y="755" font-size="18" style="fill:#000">byp</text></g>
<g id="n-bvoco"><rect class="l" x="282" y="664" width="62" height="35" rx="7" fill="#4a2fa0"/><text class="t" x="312" y="681" font-size="24" textLength="47" lengthAdjust="spacingAndGlyphs">Voco</text></g>
<g id="n-mtag"><use href="#sw" transform="translate(286 700) scale(1 .88)"/><rect x="283" y="702" width="21" height="21" fill="#0f6e44"/><text class="t" x="289" y="713" font-size="18" style="fill:#9cb">M</text>
<use href="#kr" transform="translate(292 757) scale(.55)"/><use href="#kr" transform="translate(314 757) scale(.55)"/><use href="#kr" transform="translate(334 753) scale(.55)"/>
<rect x="270" y="735" width="18" height="20" fill="#0f6e44"/><text class="t" x="279" y="745" font-size="18">M</text>
<rect x="287" y="733" width="19" height="20" fill="#0f6e44"/><text class="t" x="296" y="743" font-size="18">M</text>
<rect x="310" y="733" width="20" height="20" fill="#0f6e44"/><text class="t" x="320" y="743" font-size="18">M</text></g>
<g id="n-byp2"><rect class="by" x="283" y="765" width="57" height="28" rx="7"/><text class="t" x="311" y="779" font-size="16" style="fill:#000">byp</text></g>
<use href="#sw" transform="translate(285 794) scale(1 1.170)"/>
<g id="n-bcomb"><rect class="l" x="371" y="664" width="61" height="35" rx="7" fill="#4a2fa0"/><text class="t" x="401" y="682" font-size="25" textLength="50" lengthAdjust="spacingAndGlyphs">Comb</text></g>
<use href="#sw" transform="translate(376 700)"/>
<g id="n-byp3"><rect class="by" x="372" y="739" width="57" height="32" rx="7"/><text class="t" x="400" y="756" font-size="20" style="fill:#000">byp</text></g>
<g id="n-pw1"><rect class="l" x="368" y="774" width="60" height="36" rx="7" fill="#4a2fa0"/><text class="t" x="398" y="792" font-size="24" textLength="50" lengthAdjust="spacingAndGlyphs">PWrk</text></g>
<g id="n-bwrp"><rect class="l" x="451" y="666" width="62" height="35" rx="7" fill="#4a2fa0"/><text class="t" x="482" y="683" font-size="24" textLength="42" lengthAdjust="spacingAndGlyphs">WRP</text></g>
<use href="#sw" transform="translate(460 698)"/>
<g id="n-byp4"><rect class="by" x="456" y="737" width="57" height="28" rx="7"/><text class="t" x="484" y="751" font-size="18" style="fill:#000">byp</text></g>
<g id="n-pw2"><rect class="l" x="453" y="768" width="62" height="34" rx="7" fill="#4a2fa0"/><text class="t" x="484" y="785" font-size="24" textLength="50" lengthAdjust="spacingAndGlyphs">PWrk</text></g>
<g id="n-sgate"><rect class="l" x="700" y="668" width="62" height="35" rx="7" fill="#4a2fa0"/><text class="t" x="731" y="686" font-size="23" textLength="52" lengthAdjust="spacingAndGlyphs">S-Gate</text></g>
<use href="#sw" transform="translate(709 707)"/>
<g id="n-byp5"><rect class="by" x="701" y="748" width="57" height="28" rx="7"/><text class="t" x="729" y="762" font-size="18" style="fill:#000">byp</text></g>
<g id="n-morph"><rect class="l" x="700" y="780" width="62" height="36" rx="7" fill="#4a2fa0"/><text class="t" x="731" y="798" font-size="23" textLength="52" lengthAdjust="spacingAndGlyphs">Morph</text></g>
<use href="#sw" transform="translate(709 819)"/>
<g id="n-byp6"><rect class="by" x="704" y="860" width="57" height="29" rx="7"/><text class="t" x="732" y="875" font-size="18" style="fill:#000">byp</text></g>
<g id="n-bzip"><rect class="l" x="809" y="668" width="62" height="35" rx="7" fill="#4a2fa0"/><text class="t" x="840" y="686" font-size="25" textLength="32" lengthAdjust="spacingAndGlyphs">ZIP</text></g>
<use href="#sw" transform="translate(814 709)"/>
<g id="n-byp7"><rect class="by" x="810" y="750" width="56" height="29" rx="7"/><text class="t" x="838" y="765" font-size="18" style="fill:#000">byp</text></g>
<g id="n-sl88"><rect class="l" x="881" y="728" width="64" height="41" rx="7" fill="#4a2fa0"/><text class="t" x="913" y="749" font-size="32" textLength="53" lengthAdjust="spacingAndGlyphs">SL88</text></g>
<use href="#sw" transform="translate(887 770) scale(1.160 1.300)"/>
<g id="n-byp8"><rect class="by" x="889" y="823" width="56" height="28" rx="7"/><text class="t" x="917" y="837" font-size="18" style="fill:#000">byp</text></g>
<g id="n-7th"><rect class="l" x="971" y="758" width="71" height="31" rx="5" fill="#1f7035"/><text class="t" x="1006" y="774" font-size="22" textLength="30" lengthAdjust="spacingAndGlyphs">7th</text></g>
<g id="n-room"><rect class="l" x="1046" y="758" width="68" height="38" rx="5" fill="#1f7035"/><text class="t" x="1079" y="777" font-size="26" textLength="57" lengthAdjust="spacingAndGlyphs">Room</text></g>
<g id="n-mix7"><rect class="l" x="981" y="884" width="55" height="37" rx="5" fill="#6cbb3c"/><text class="t" x="1008" y="903" font-size="28" style="fill:#000" textLength="40" lengthAdjust="spacingAndGlyphs">MIX</text></g>
<g id="n-unb"><rect class="l" x="1369" y="778" width="67" height="64" rx="5" fill="#e03030"/><text class="t" x="1402" y="811" font-size="25" textLength="30" lengthAdjust="spacingAndGlyphs">UN</text></g>
<g id="n-blank"><rect class="l" x="1203" y="903" width="62" height="36" rx="5" fill="#5030a0"/></g>

<g id="bypass-buttons">
<use href="#bb" transform="translate(437 452)"/>
<use href="#bb" transform="translate(607 442)"/>
<use href="#bb" transform="translate(707 440)"/>
<use href="#bb" transform="translate(959 226)"/>
<use href="#bb" transform="translate(894 464)"/>
<text class="d" x="398" y="496" textLength="75" lengthAdjust="spacingAndGlyphs">Bypass...</text>
<text class="d" x="569" y="485" textLength="78" lengthAdjust="spacingAndGlyphs">Bypass...</text>
<text class="d" x="669" y="483" textLength="70" lengthAdjust="spacingAndGlyphs">Bypass...</text>
<text class="d" x="920" y="268" textLength="78" lengthAdjust="spacingAndGlyphs">Bypass...</text>
</g>
</svg>
